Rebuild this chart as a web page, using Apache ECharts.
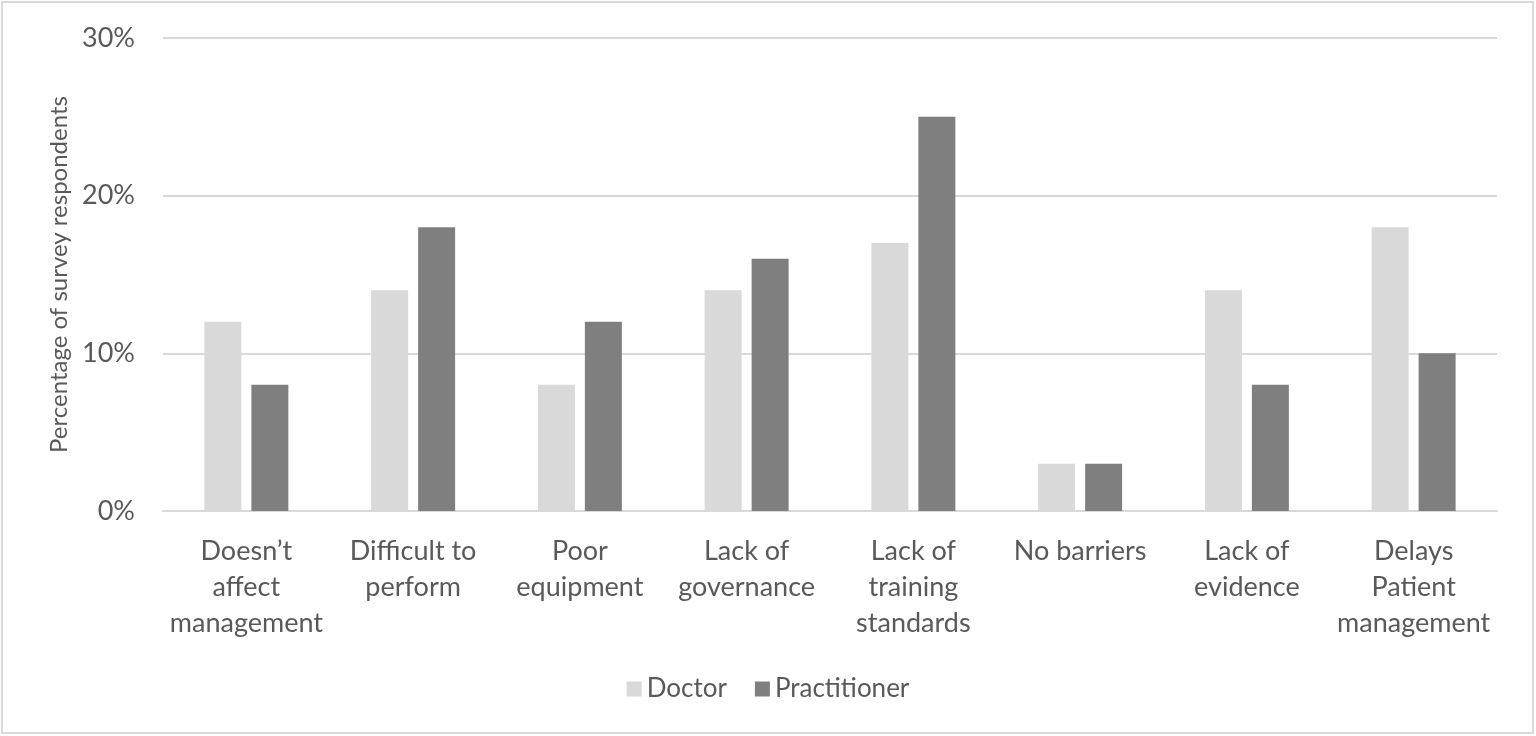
<!DOCTYPE html>
<html>
<head>
<meta charset="utf-8">
<script src="https://cdn.jsdelivr.net/npm/echarts@6/dist/echarts.min.js"></script>
<style>
  html, body { margin: 0; padding: 0; background: #fff; }
  #chart { width: 1536px; height: 736px; }
</style>
</head>
<body>
<div id="chart"></div>
<script>
// 类别与数据（百分比）
const categories = [
    'Doesn’t\naffect\nmanagement',
    'Difficult to\nperform',
    'Poor\nequipment',
    'Lack of\ngovernance',
    'Lack of\ntraining\nstandards',
    'No barriers',
    'Lack of\nevidence',
    'Delays\nPatient\nmanagement'
];
const doctorData = [12, 14, 8, 14, 17, 3, 14, 18];
const practitionerData = [8, 18, 12, 16, 25, 3, 8, 10];
const yTicks = [0, 10, 20, 30];

const font = 'Lato';
const textColor = '#595959';

const chart = echarts.init(document.getElementById('chart'));

const option = {
    animation: false,
    textStyle: { fontFamily: font },
    graphic: [{
        type: 'rect',
        shape: { x: 2, y: 2, width: 1531, height: 731 },
        style: { fill: 'none', stroke: '#d9d9d9', lineWidth: 2 }
    }],
    legend: {
        top: 671,
        left: 'center',
        itemWidth: 15,
        itemHeight: 15,
        itemGap: 28,
        icon: 'rect',
        textStyle: { fontFamily: font, fontSize: 26, color: textColor, padding: [0, 0, 0, 0] },
        data: ['Doctor', 'Practitioner']
    },
    grid: {
        left: 163,
        right: 39,
        top: 38,
        bottom: 225
    },
    xAxis: {
        type: 'category',
        data: categories,
        axisLine: { lineStyle: { color: '#d9d9d9', width: 2 } },
        axisTick: { show: false },
        axisLabel: {
            interval: 0,
            margin: 22,
            fontFamily: font,
            fontSize: 27,
            lineHeight: 36,
            color: textColor
        }
    },
    yAxis: {
        type: 'value',
        min: yTicks[0],
        max: yTicks[yTicks.length - 1],
        interval: 10,
        name: 'Percentage of survey respondents',
        nameLocation: 'middle',
        nameGap: 91,
        nameTextStyle: { fontFamily: font, fontSize: 24, color: textColor },
        axisLine: { show: false },
        axisTick: { show: false },
        splitLine: { lineStyle: { color: '#d9d9d9', width: 2 } },
        axisLabel: {
            formatter: '{value}%',
            margin: 28,
            fontFamily: font,
            fontSize: 27,
            color: textColor
        }
    },
    series: [
        {
            name: 'Doctor',
            type: 'bar',
            data: doctorData,
            barWidth: 37,
            barGap: '27%',
            itemStyle: { color: '#d9d9d9' }
        },
        {
            name: 'Practitioner',
            type: 'bar',
            data: practitionerData,
            barWidth: 37,
            itemStyle: { color: '#7f7f7f' }
        }
    ]
};

chart.setOption(option);
window.addEventListener('resize', () => chart.resize());
</script>
</body>
</html>
